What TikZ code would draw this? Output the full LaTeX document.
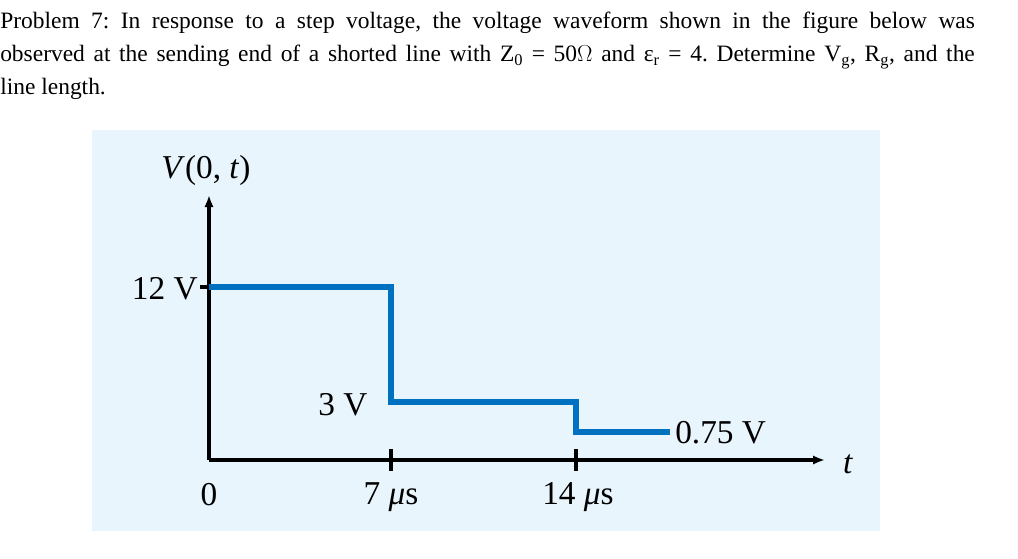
\documentclass[tikz,border=0pt]{standalone}
\usepackage{fontspec}
\setmainfont{Liberation Serif}
\usetikzlibrary{arrows.meta}
\definecolor{panel}{RGB}{232,245,252}
\definecolor{wave}{RGB}{0,112,192}
\tikzset{lbl/.style={inner sep=0pt,font=\fontsize{25}{28}\selectfont},
axis/.style={line width=2.6pt,-{Latex[length=9pt,width=7pt]}},
tick/.style={line width=3pt}}
\begin{document}
\begin{tikzpicture}[x=0.75pt,y=-0.75pt]
\useasboundingbox (0,0) rectangle (1018,558);
\node[anchor=north west,inner sep=0pt,text width=731pt,align=justify,font=\fontsize{17.6}{24.7}\selectfont\frenchspacing] (txt) at (0,12)
{Problem 7: In response to a step voltage, the voltage waveform shown in the figure below was\linebreak observed at the sending end of a shorted line with Z\textsubscript{0} = 50$\Omega$ and ε\textsubscript{r} = 4. Determine V\textsubscript{g}, R\textsubscript{g}, and the\linebreak line length.};
\fill[panel] (92,130) rectangle (880,531);
\coordinate (o) at (209,460);
\coordinate (yt) at (209,195);
\coordinate (xt) at (825,460);
\draw[axis] (o) -- (yt);
\draw[axis] (o) -- (xt);
\draw[tick] (200,287) -- (216,287);
\draw[tick] (391,449) -- (391,471);
\draw[tick] (576,449) -- (576,471);
\draw[wave,line width=5pt] (209,287) -- (391,287) -- (391,402) -- (576,402) -- (576,432) -- (670,432);
\node[lbl] (vl) at (206,170) {\textit{V}(0, \textit{t})};
\node[lbl,anchor=east] (v12) at (198,289) {12 V};
\node[lbl] (v3) at (343,405) {3 V};
\node[lbl,anchor=west] (v075) at (675,433) {0.75 V};
\node[lbl] (t) at (848,464) {\textit{t}};
\node[lbl] (z) at (209,495) {0};
\node[lbl] (t7) at (391,497) {7 \textit{μ}s};
\node[lbl] (t14) at (578,497) {14 \textit{μ}s};
\end{tikzpicture}
\end{document}
